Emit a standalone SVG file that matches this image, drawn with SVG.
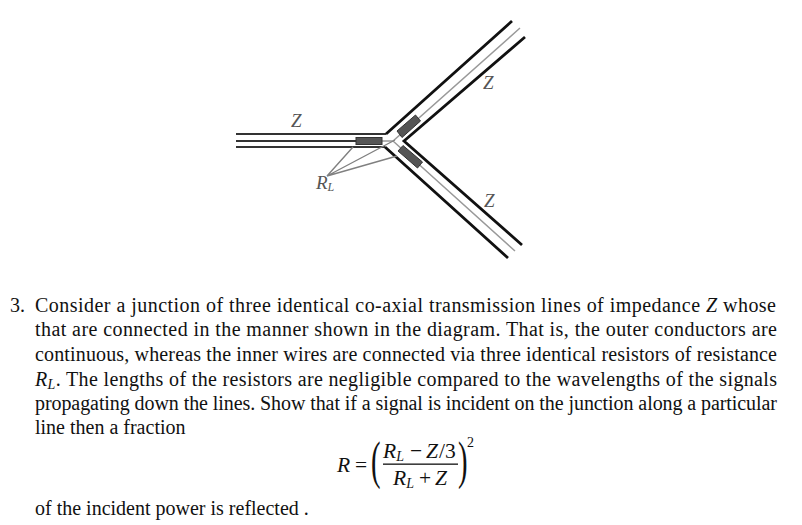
<svg xmlns="http://www.w3.org/2000/svg" width="802" height="525" viewBox="0 0 802 525">
<style>
text{font-family:"Liberation Serif","Times New Roman",serif;fill:#111}
.b{font-size:20px}
.f{font-size:21.5px}
.i{font-style:italic}
.s{font-size:14px}
.lab{font-size:19px;font-style:italic;fill:#555}
.outer{fill:none;stroke:#111;stroke-width:2.8}
.hor{fill:none;stroke:#333;stroke-width:2.2}
.wire{fill:none;stroke:#999;stroke-width:1.5}
.lead{fill:none;stroke:#808080;stroke-width:1.4}
.res{fill:#555;stroke:#333;stroke-width:1}
</style>
<rect width="802" height="525" fill="#fff"/>
<g id="connectors">
<path class="hor" d="M236 134H386M236 147H385"/>
<path class="hor" d="M236 141H360" stroke-width="1.6"/>
<path class="wire" d="M380 141H393L520 28M393 141L515 251"/>
<path class="outer" d="M386 134L512 21M525 37L404 141L522 245M385 147L508 258"/>
<path class="lead" d="M353 147L327 176L395 140M327 176L397 156"/>
</g>
<g id="resistor-left"><rect class="res" x="356" y="137.500" width="26" height="7"/></g>
<g id="resistor-upper"><path class="res" d="M397 131L415.500 115L420.500 121L402 137.500Z"/></g>
<g id="resistor-lower"><path class="res" d="M403 145.500L422.500 162L417.500 168L398 151Z"/></g>
<g id="labels">
<text class="lab" x="291" y="127">Z</text>
<text class="lab" x="483" y="89">Z</text>
<text class="lab" x="484" y="207">Z</text>
<text class="lab" x="316" y="189" font-size="20">R<tspan font-size="12" dy="2">L</tspan></text>
</g>
<g id="body">
<text class="b" x="10" y="312">3.</text>
<text class="b" x="35" y="312" textLength="741">Consider a junction of three identical co-axial transmission lines of impedance <tspan class="i">Z</tspan> whose</text>
<text class="b" x="35" y="336" textLength="742">that are connected in the manner shown in the diagram. That is, the outer conductors are</text>
<text class="b" x="35" y="361" textLength="742">continuous, whereas the inner wires are connected via three identical resistors of resistance</text>
<text class="b" x="35" y="386" textLength="742"><tspan class="i">R</tspan><tspan class="i" font-size="14" dy="3">L</tspan><tspan dy="-3">. The lengths of the resistors are negligible compared to the wavelengths of the signals</tspan></text>
<text class="b" x="35" y="410" textLength="742">propagating down the lines. Show that if a signal is incident on the junction along a particular</text>
<text class="b" x="35" y="434">line then a fraction</text>
<text class="b" x="35" y="515">of the incident power is reflected .</text>
</g>
<g id="formula">
<text class="f i" x="337" y="472">R</text>
<text class="f" x="355" y="472">=</text>
<text x="371" y="478" font-size="52" font-weight="100" transform="translate(371 0) scale(.55 1) translate(-371 0)">(</text>
<text class="f i" x="383" y="458">R<tspan class="s" dy="3">L</tspan></text>
<text class="f" x="410" y="458">−</text>
<text class="f i" x="426" y="458">Z</text>
<text class="f" x="439" y="458">/3</text>
<rect x="383" y="463.500" width="75" height="1.3" fill="#111"/>
<text class="f i" x="393" y="485">R<tspan class="s" dy="3">L</tspan></text>
<text class="f" x="419" y="485">+</text>
<text class="f i" x="435" y="485">Z</text>
<text x="458" y="478" font-size="52" font-weight="100" transform="translate(458 0) scale(.55 1) translate(-458 0)">)</text>
<text x="467" y="447" font-size="14">2</text>
</g>
</svg>
